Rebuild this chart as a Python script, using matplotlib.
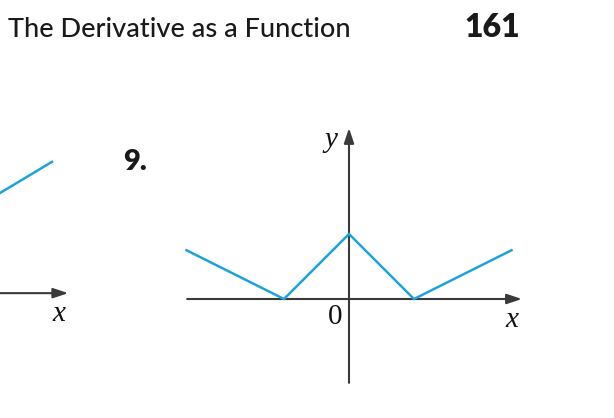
import matplotlib
matplotlib.use("Agg")
import matplotlib.pyplot as plt

# Exercise 9 graph: piecewise linear function
x_vals = [-2.5, -1.0, 0.0, 1.0, 2.5]
y_vals = [0.75, 0.0, 1.0, 0.0, 0.75]

# Axis extents (data units)
x_axis_range = [-2.49, 2.66]
y_axis_range = [-1.29, 2.63]

# Fragment of the previous exercise's graph (left edge)
prev_x = [-5.37, -4.57]
prev_y = [1.63, 2.11]
prev_axis_x = [-5.40, -4.32]
prev_axis_y = 0.09

title_text = "The Derivative as a Function"
page_text = "161"
problem_text = "9."

BLUE = "#1ea3d8"
AXC = "#3a3a3a"

fig = plt.figure(figsize=(6.14, 4.18), dpi=100)
ax = fig.add_axes([0, 0, 1, 1])
ax.set_xlim(-349 / 65, 265 / 65)
ax.set_ylim(-119 / 65, 299 / 65)
ax.axis("off")

arrow = dict(arrowstyle="-|>,head_length=0.9,head_width=0.3", color=AXC, lw=1.5,
             shrinkA=0, shrinkB=0)

# main axes
ax.annotate("", xy=(x_axis_range[1], 0), xytext=(x_axis_range[0], 0), arrowprops=arrow)
ax.annotate("", xy=(0, y_axis_range[1]), xytext=(0, y_axis_range[0]), arrowprops=arrow)
ax.plot(x_vals, y_vals, color=BLUE, lw=1.8, solid_joinstyle="miter", zorder=3)

lab = dict(family="Liberation Serif", fontsize=21, ha="center", va="center", color="#111")
ax.text(2.51, -0.33, "x", style="italic", **lab)
ax.text(-0.28, 2.45, "y", style="italic", **lab)
ax.text(-0.22, -0.27, "0", **lab)

# previous exercise fragment
ax.annotate("", xy=(prev_axis_x[1], prev_axis_y), xytext=(prev_axis_x[0], prev_axis_y),
            arrowprops=arrow)
ax.plot(prev_x, prev_y, color=BLUE, lw=1.8, zorder=3)
ax.text(-4.46, -0.23, "x", style="italic", **lab)

# header texts
fig.text(8 / 614, 1 - 37 / 418, title_text, family="Lato", fontsize=19.5,
         fontweight="medium", ha="left", va="baseline", color="#1a1a1a")
fig.text(492 / 614, 1 - 37 / 418, page_text, family="Lato", fontweight="heavy",
         fontsize=23, ha="center", va="baseline", color="#1a1a1a")
fig.text(135 / 614, 1 - 170 / 418, problem_text, family="Lato", fontweight="heavy",
         fontsize=21, ha="center", va="baseline", color="#1a1a1a")

fig.savefig("out.png", dpi=100)
